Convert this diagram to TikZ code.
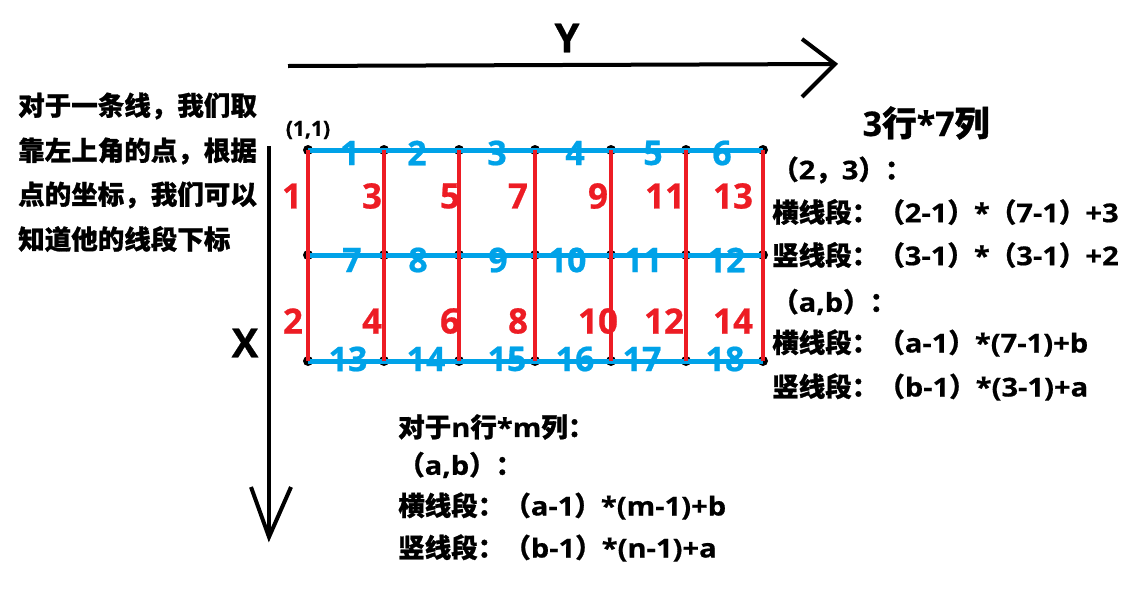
\documentclass[tikz,border=0pt]{standalone}
\usepackage{fontspec}
\setmainfont{Open Sans}[BoldFeatures={FakeBold=0.6}]
\newfontfamily\latw{Open Sans}[FakeStretch=1.12,BoldFeatures={FakeBold=0.6}]
\newfontfamily\zh{Noto Sans CJK SC}[Scale=1.02,BoldFeatures={FakeBold=1}]
\definecolor{pblue}{RGB}{0,162,232}
\definecolor{pred}{RGB}{237,28,36}
\newcommand\zhs[1]{{\zh\bfseries #1}}
\begin{document}
\begin{tikzpicture}[x=1pt,y=-1pt,
  dot/.style={circle,fill=black,inner sep=0pt,minimum size=10pt},
  hseg/.style={draw=pblue,line width=5pt},
  vseg/.style={draw=pred,line width=4.5pt},
  bnum/.style={text=pblue,font=\bfseries\fontsize{34}{34}\selectfont,inner sep=0pt},
  rnum/.style={text=pred,font=\bfseries\fontsize{35}{35}\selectfont,inner sep=0pt},
  txt/.style={anchor=west,inner sep=0pt,font=\latw\bfseries\fontsize{26}{30}\selectfont},
  axis/.style={draw=black,line width=4pt},
  axlab/.style={font=\bfseries\fontsize{40}{40}\selectfont,inner sep=0pt}
]
\useasboundingbox (0,0) rectangle (1134,595);
\fill[white] (0,0) rectangle (1134,595);

% axes
\coordinate (ys) at (288,66);
\coordinate (ye) at (835,64);
\coordinate (yh1) at (802,39);
\coordinate (yh2) at (802,97);
\draw[axis] (ys) -- (ye);
\draw[axis,line join=miter] (yh1) -- (ye) -- (yh2);
\node[axlab] (ylab) at (567,38) {Y};

\coordinate (xs) at (269,146);
\coordinate (xe) at (269,537);
\coordinate (xh1) at (251,487);
\coordinate (xh2) at (291,487);
\draw[axis] (xs) -- (xe);
\draw[axis,line join=miter] (xh1) -- (xe) -- (xh2);
\node[axlab] (xlab) at (245,343) {X};

% grid dots
\foreach \r/\y in {1/150,2/255,3/361}
  \foreach \c/\x in {1/308,2/384,3/459,4/535,5/611,6/686,7/763}
    \node[dot] (d-\r-\c) at (\x,\y) {};

% blue horizontal segments
\foreach \r in {1,2,3}{
  \foreach \c in {1,2,3,4,5,6}{
    \pgfmathtruncatemacro{\n}{\c+1}
    \draw[hseg] (d-\r-\c.center) -- (d-\r-\n.center);
  }
}

% red vertical segments
\foreach \r in {1,2}{
  \foreach \c in {1,2,3,4,5,6,7}{
    \pgfmathtruncatemacro{\n}{\r+1}
    \draw[vseg] (d-\r-\c.center) -- (d-\n-\c.center);
  }
}

% blue numbers
\foreach \t/\x in {1/350,2/417,3/497,4/575,5/653,6/722}
  \node[bnum] (b\t) at (\x,153) {\t};
\foreach \t/\x in {7/352,8/418,9/498,10/567,11/643,12/726}
  \node[bnum] (b\t) at (\x,260) {\t};
\foreach \t/\x in {13/348,14/426,15/507,16/575,17/642,18/725}
  \node[bnum] (b\t) at (\x,359) {\t};

% red numbers
\foreach \t/\x in {1/292,3/372,5/450,7/518,9/598,11/665,13/733}
  \node[rnum] (r\t) at (\x,196) {\t};
\foreach \t/\x in {2/293,4/372,6/450,8/518,10/598,12/664,14/733}
  \node[rnum] (r\t) at (\x,321) {\t};

\node[font=\bfseries\fontsize{21}{21}\selectfont,inner sep=0pt] (origin) at (308,130) {(1,1)};

% left explanation
\node[txt] (l1) at (18,106) {\zhs{对于一条线，我们取}};
\node[txt] (l2) at (18,151) {\zhs{靠左上角的点，根据}};
\node[txt] (l3) at (18,195) {\zhs{点的坐标，我们可以}};
\node[txt] (l4) at (18,239) {\zhs{知道他的线段下标}};

% right block
\node[font=\bfseries\fontsize{34}{34}\selectfont,inner sep=0pt] (title) at (926,123) {3\zhs{行}*7\zhs{列}};
\node[txt] (r1) at (772,170) {\zhs{（}2\zhs{，}3\zhs{）：}};
\node[txt] (r2) at (772,212) {\zhs{横线段：（}2-1\zhs{）}*\zhs{（}7-1\zhs{）}+3};
\node[txt] (r3) at (772,255) {\zhs{竖线段：（}3-1\zhs{）}*\zhs{（}3-1\zhs{）}+2};
\node[txt] (r4) at (772,302) {\zhs{（}a,b\zhs{）：}};
\node[txt] (r5) at (772,343) {\zhs{横线段：（}a-1\zhs{）}*(7-1)+b};
\node[txt] (r6) at (772,387) {\zhs{竖线段：（}b-1\zhs{）}*(3-1)+a};

% bottom block
\node[txt] (g1) at (398,427) {\zhs{对于}n\zhs{行}*m\zhs{列：}};
\node[txt] (g2) at (398,465) {\zhs{（}a,b\zhs{）：}};
\node[txt] (g3) at (398,506) {\zhs{横线段：（}a-1\zhs{）}*(m-1)+b};
\node[txt] (g4) at (398,548) {\zhs{竖线段：（}b-1\zhs{）}*(n-1)+a};
\end{tikzpicture}
\end{document}
